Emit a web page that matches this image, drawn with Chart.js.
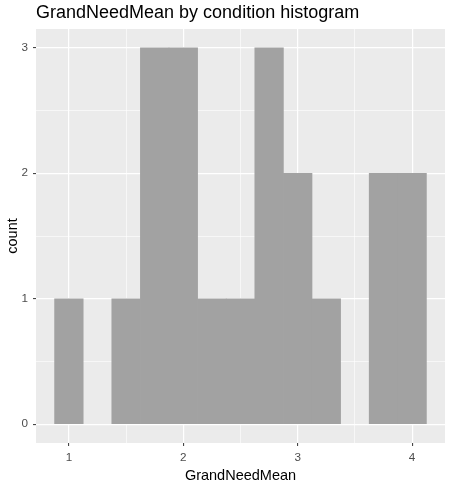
<!DOCTYPE html>
<html>
<head>
<meta charset="utf-8">
<script src="https://cdn.jsdelivr.net/npm/chart.js@4/dist/chart.umd.min.js"></script>
<style>
  html, body { margin: 0; padding: 0; background: #ffffff; }
  #wrap { width: 454px; height: 485px; }
</style>
</head>
<body>
<div id="wrap"><canvas id="c" width="454" height="485"></canvas></div>
<script>
// Histogram bins (bin centres, binwidth 0.25) and counts
const binCenters = [1.00, 1.25, 1.50, 1.75, 2.00, 2.25, 2.50, 2.75, 3.00, 3.25, 3.50, 3.75, 4.00];
const counts     = [1,    0,    1,    3,    3,    1,    1,    3,    2,    1,    0,    2,    2];
const xTickLabels = [1, 2, 3, 4];
const yTickLabels = [0, 1, 2, 3];

const titleText = 'GrandNeedMean by condition histogram';
const xTitle = 'GrandNeedMean';
const yTitle = 'count';

const FONT = "'Liberation Sans', Arial, sans-serif";
const X_MIN = 0.7125, X_MAX = 4.2875, Y_MIN = -0.15, Y_MAX = 3.15;

const panelBg = {
  id: 'panelBg',
  beforeDraw(chart) {
    const a = chart.chartArea;
    const ctx = chart.ctx;
    ctx.save();
    ctx.fillStyle = '#EBEBEB';
    ctx.fillRect(a.left, a.top, a.right - a.left, a.bottom - a.top);
    ctx.restore();
  }
};

const isMajor = v => Math.abs(v - Math.round(v)) < 1e-9;
const tickMajor = ctx => !!(ctx && ctx.tick && isMajor(ctx.tick.value));

// faint overlay grid (gridlines showing through the semi-transparent-looking bars)
const overlayGrid = {
  color: 'rgba(255,255,255,0.11)',
  lineWidth: ctx => tickMajor(ctx) ? 1.2 : 0.6,
  drawTicks: false
};

new Chart(document.getElementById('c'), {
  type: 'bar',
  data: {
    datasets: [{
      data: binCenters.map((x, i) => ({ x: x, y: counts[i] })),
      backgroundColor: '#A2A2A2',
      borderWidth: 0,
      inflateAmount: ctx => (ctx.raw && ctx.raw.y === 0) ? 0 : 0.33,
      barPercentage: 1.0,
      categoryPercentage: 1.0,
      xAxisID: 'x',
      yAxisID: 'y'
    }]
  },
  options: {
    responsive: false,
    animation: false,
    devicePixelRatio: 1,
    layout: { padding: { left: 0, right: 9, top: 0, bottom: 0 } },
    plugins: {
      legend: { display: false },
      tooltip: { enabled: false },
      title: {
        display: true,
        text: titleText,
        align: 'start',
        fullSize: false,
        color: '#000000',
        font: { family: FONT, size: 18, weight: 'normal', lineHeight: 1 },
        padding: { top: 4.5, bottom: 6.5 }
      }
    },
    scales: {
      x: {
        type: 'linear',
        min: X_MIN,
        max: X_MAX,
        offset: false,
        border: { display: false },
        grid: {
          offset: false,
          color: '#FFFFFF',
          lineWidth: ctx => tickMajor(ctx) ? 1.2 : 0.6,
          drawTicks: true,
          tickLength: 3,
          tickWidth: 1,
          tickColor: ctx => tickMajor(ctx) ? '#333333' : 'rgba(0,0,0,0)'
        },
        ticks: {
          stepSize: 0.5,
          includeBounds: false,
          autoSkip: false,
          maxRotation: 0,
          padding: 5,
          color: '#4D4D4D',
          font: { family: FONT, size: 11.7 },
          callback: v => (isMajor(v) && xTickLabels.includes(Math.round(v))) ? String(Math.round(v)) : ''
        },
        title: {
          display: true,
          text: xTitle,
          color: '#000000',
          font: { family: FONT, size: 14.5 },
          padding: { top: 0, bottom: 0 }
        },
        afterFit: s => { s.height = 42; }
      },
      y: {
        type: 'linear',
        min: Y_MIN,
        max: Y_MAX,
        border: { display: false },
        grid: {
          color: '#FFFFFF',
          lineWidth: ctx => tickMajor(ctx) ? 1.2 : 0.6,
          drawTicks: true,
          tickLength: 3,
          tickWidth: 1,
          tickColor: ctx => tickMajor(ctx) ? '#333333' : 'rgba(0,0,0,0)'
        },
        ticks: {
          stepSize: 0.5,
          includeBounds: false,
          autoSkip: false,
          padding: 5,
          color: '#4D4D4D',
          font: { family: FONT, size: 11.7 },
          callback: v => (isMajor(v) && yTickLabels.includes(Math.round(v))) ? String(Math.round(v)) : ''
        },
        title: {
          display: true,
          text: yTitle,
          color: '#000000',
          font: { family: FONT, size: 14.5 },
          padding: { top: 4, bottom: 0 }
        },
        afterFit: s => { s.width = 36; }
      },
      x2: {
        type: 'linear',
        position: 'top',
        min: X_MIN,
        max: X_MAX,
        offset: false,
        z: 1,
        border: { display: false },
        grid: Object.assign({ offset: false }, overlayGrid),
        ticks: { display: false, stepSize: 0.5, includeBounds: false, autoSkip: false },
        afterFit: s => { s.height = 0; }
      },
      y2: {
        type: 'linear',
        position: 'right',
        min: Y_MIN,
        max: Y_MAX,
        z: 1,
        border: { display: false },
        grid: Object.assign({}, overlayGrid),
        ticks: { display: false, stepSize: 0.5, includeBounds: false, autoSkip: false },
        afterFit: s => { s.width = 0; }
      }
    }
  },
  plugins: [panelBg]
});
</script>
</body>
</html>
